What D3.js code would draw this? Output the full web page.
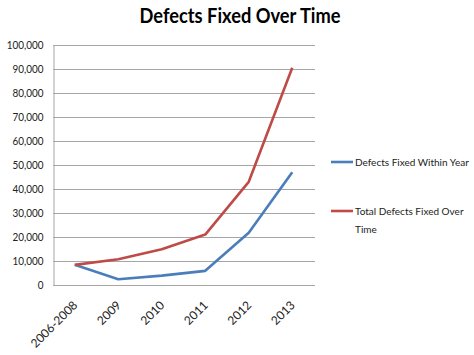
<!DOCTYPE html>
<html><head><meta charset="utf-8">
<script src="https://cdn.jsdelivr.net/npm/d3@7"></script>
<style>
html,body{margin:0;padding:0;background:#fff;}
svg{display:block;}
</style></head><body>
<svg id="c" width="474" height="355"></svg>
<script>
const categories = ["2006-2008","2009","2010","2011","2012","2013"];
const withinYear = [8400, 2400, 3900, 5900, 21800, 47000];
const totalOverTime = [8400, 10700, 14900, 21000, 43000, 90500];
const yTicks = [0,10000,20000,30000,40000,50000,60000,70000,80000,90000,100000];
const seriesNames = ["Defects Fixed Within Year", "Total Defects Fixed Over Time"];
const colors = ["#4a7ebb", "#be4b48"];

const svg = d3.select("#c");
const font = "Lato, 'Open Sans', sans-serif";
const m = {left:53, right:314, top:45, bottom:285};

function squeeze(sel, f){
  sel.each(function(){
    const w = this.getComputedTextLength();
    d3.select(this).attr("textLength", w*f).attr("lengthAdjust","spacingAndGlyphs");
  });
}

const x = d3.scalePoint().domain(categories).range([m.left, m.right]).padding(0.5);
const y = d3.scaleLinear().domain([0,100000]).range([m.bottom, m.top]);

const title = svg.append("text").attr("x", 240).attr("y", 23).attr("text-anchor","middle")
  .attr("font-family", font).attr("font-weight","bold").attr("font-size", 21)
  .attr("fill","#000").text("Defects Fixed Over Time");
squeeze(title, 201/title.node().getComputedTextLength());

// gridlines
const grid = svg.append("g");
grid.selectAll("line").data(yTicks).join("line")
  .attr("x1", m.left).attr("x2", m.right+1)
  .attr("y1", d=>y(d)+0.5).attr("y2", d=>y(d)+0.5)
  .attr("stroke","#a6a6a6").attr("stroke-width",1);

// y axis
const yAxis = d3.axisLeft(y).tickValues(yTicks).tickSize(0).tickPadding(10)
  .tickFormat(d3.format(","));
const gy = svg.append("g").attr("transform",`translate(${m.left+0.5},0)`).call(yAxis);
gy.select(".domain").attr("stroke","#a6a6a6");
gy.selectAll("text").attr("font-family", font).attr("font-size", 11.5).attr("fill","#222");
squeeze(gy.selectAll("text"), 0.86);

// x axis labels
const xAxis = d3.axisBottom(x).tickSize(0).tickPadding(0);
const gx = svg.append("g").attr("transform",`translate(0,${m.bottom})`).call(xAxis);
gx.select(".domain").remove();
gx.selectAll("text").attr("font-family", font).attr("font-size", 12).attr("fill","#222")
  .attr("text-anchor","end").attr("dy", 0)
  .attr("transform","translate(3,21) rotate(-45)");

const line = d3.line().x((d,i)=>x(categories[i])).y(d=>y(d));
[withinYear, totalOverTime].forEach((s,k)=>{
  svg.append("path").datum(s).attr("d", line).attr("fill","none")
    .attr("stroke", colors[k]).attr("stroke-width", 2.6).attr("stroke-linejoin","round");
});

// legend
const lg = svg.append("g");
const ly = [162, 211];
lg.selectAll("line").data(seriesNames).join("line")
  .attr("x1",331).attr("x2",353).attr("y1",(d,i)=>ly[i]).attr("y2",(d,i)=>ly[i])
  .attr("stroke",(d,i)=>colors[i]).attr("stroke-width",2.6);
const lfont = "'Liberation Sans Narrow', 'Arial Narrow', Lato, sans-serif";
const t1 = lg.append("text").attr("x",355).attr("y",ly[0]+4).attr("font-family",lfont).attr("font-size",12.5)
  .attr("fill","#222").text(seriesNames[0]);
const w1 = t1.node().getComputedTextLength();
const lfs = Math.min(12.5, 12.5*114/w1);
t1.attr("font-size", lfs);
lg.append("text").attr("x",355).attr("y",ly[1]+4).attr("font-family",lfont).attr("font-size",lfs)
  .attr("fill","#222").text("Total Defects Fixed Over");
lg.append("text").attr("x",355).attr("y",ly[1]+22).attr("font-family",lfont).attr("font-size",lfs)
  .attr("fill","#222").text("Time");
</script>
</body></html>
